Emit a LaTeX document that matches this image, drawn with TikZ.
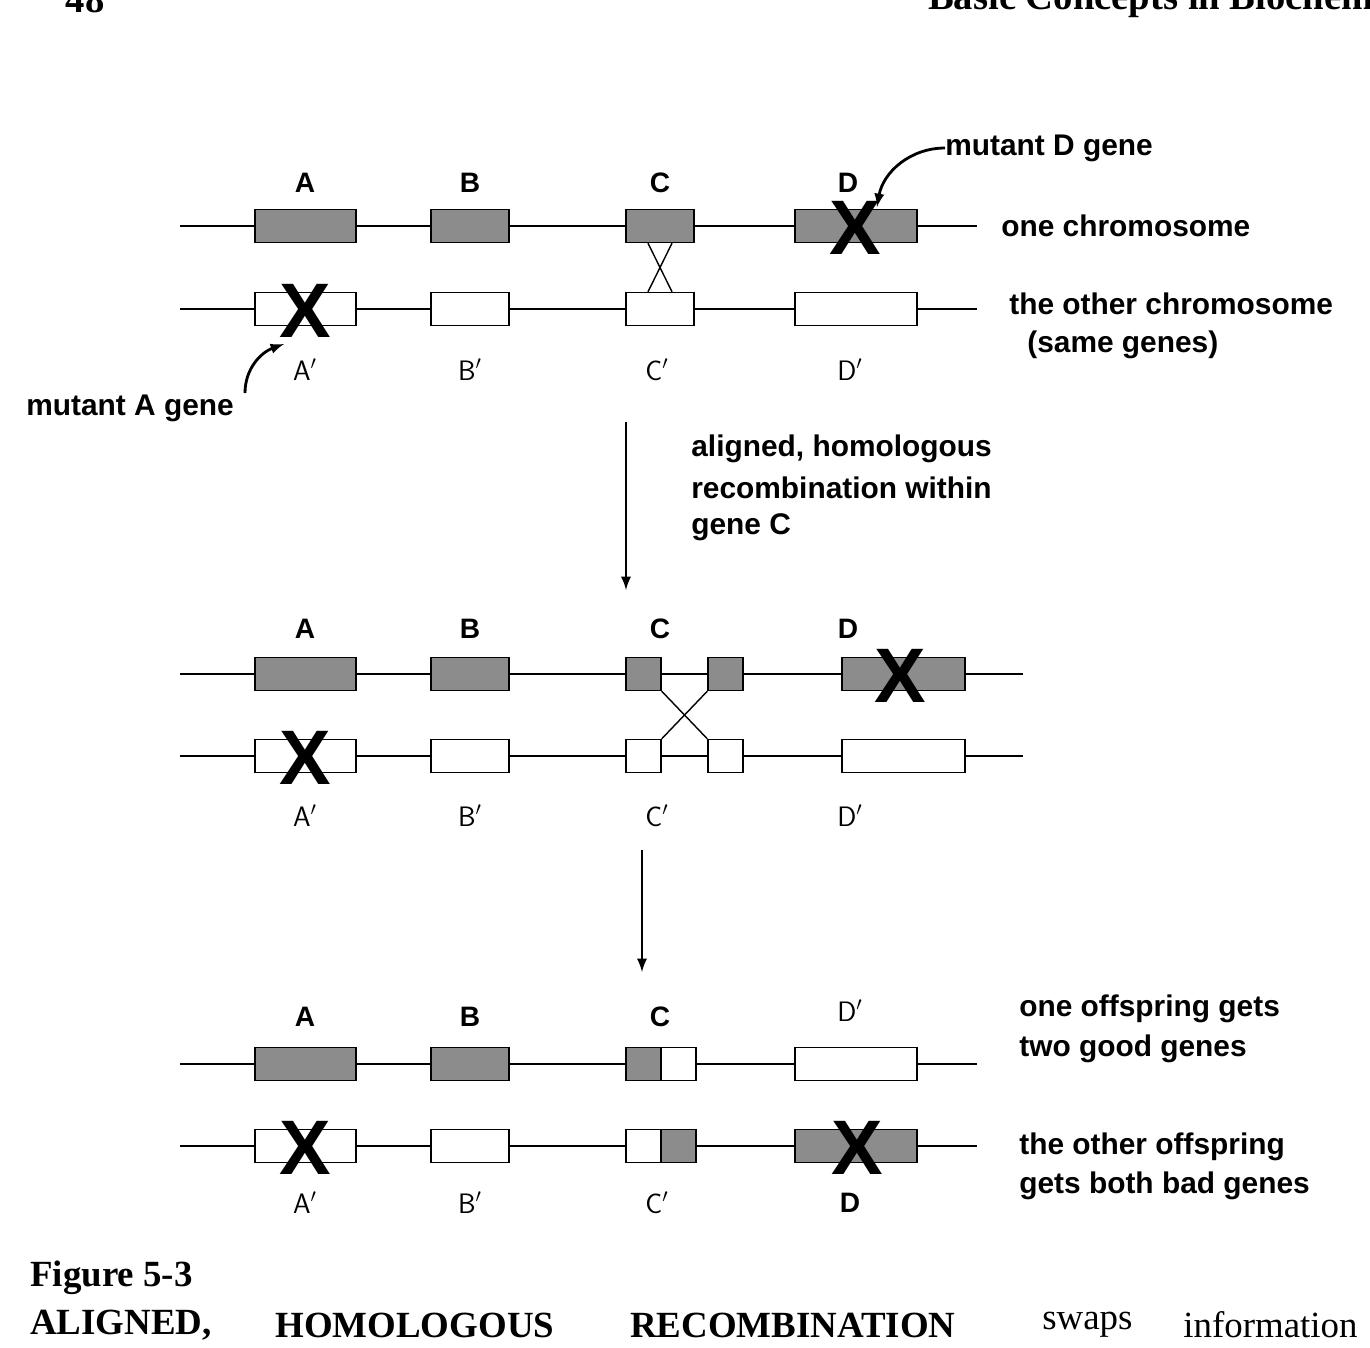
\documentclass[tikz,border=0pt]{standalone}
\usepackage{fontspec}
\setmainfont{Liberation Serif}
\newfontfamily\labelfont{Liberation Sans}
\usetikzlibrary{positioning,calc}
\definecolor{genegray}{HTML}{8C8C8C}
\tikzset{
  lbl/.style={font=\labelfont\bfseries\fontsize{16}{18}\selectfont},
  txt/.style={font=\labelfont\bfseries\fontsize{17}{20}\selectfont,anchor=west,inner sep=0},
  chrom/.style={line width=1.6pt},
  gene/.style={draw,line width=0.8pt,minimum height=0.66cm,inner sep=0,fill=white},
  good/.style={gene,fill=genegray},
  mut/.style={font=\labelfont\bfseries\fontsize{44}{44}\selectfont,inner sep=0},
  stagearrow/.style={-latex,line width=1.6pt},
}
\begin{document}
\begin{tikzpicture}[x=0.02cm,y=-0.02cm]
  \useasboundingbox (0,0) rectangle (1370,1347);

  % header of the page
  \node[font=\bfseries\fontsize{22}{24}\selectfont] (pg) at (85,0) {48};
  \node[font=\bfseries\fontsize{22}{24}\selectfont,anchor=west] (hd) at (922,0) {Basic Concepts in Biochemistry};

  % first pair
  \coordinate (l1a) at (180,226); \coordinate (l1b) at (977,226);
  \coordinate (l2a) at (180,309); \coordinate (l2b) at (977,309);
  \draw[chrom] (l1a) -- (l1b);
  \draw[chrom] (l2a) -- (l2b);
  \node[good,minimum width=2.02cm] (a1) at (305.5,226) {};
  \node[good,minimum width=1.56cm] (b1) at (470,226) {};
  \node[good,minimum width=1.36cm] (c1) at (660,226) {};
  \node[good,minimum width=2.44cm] (d1) at (856,226) {};
  \node[gene,minimum width=2.02cm] (a2) at (305.5,309) {};
  \node[gene,minimum width=1.56cm] (b2) at (470,309) {};
  \node[gene,minimum width=1.36cm] (c2) at (660,309) {};
  \node[gene,minimum width=2.44cm] (d2) at (856,309) {};
  \node[mut] (xd1) at (855,228) {X};
  \node[mut] (xa2) at (305,311) {X};
  \draw[line width=0.8pt] ($(c1.south)+(-12,0)$) -- ($(c2.north)+(12,0)$);
  \draw[line width=0.8pt] ($(c1.south)+(12,0)$) -- ($(c2.north)+(-12,0)$);
  \foreach \n/\x in {A/305,B/470,C/660,D/848} \node[lbl] at (\x,183) {\n};
  \foreach \n/\x in {A/305,B/470,C/657,D/850} \node[lbl] at (\x,370) {$\mathsf{\n'}$};
  \node[txt] (mD) at (945,148) {mutant D gene};
  \draw[-latex,line width=1.6pt] (mD.west) to[out=180,in=80] (877,207);
  \node[txt] (one) at (1001,226) {one chromosome};
  \node[txt] (oth) at (1009,304) {the other chromosome};
  \node[txt] (same) at (1027,345) {(same genes)};
  \node[txt] (mA) at (26,408) {mutant A gene};
  \draw[-latex,line width=1.6pt] (245,393) to[out=90,in=200] (284,344);

  \draw[stagearrow] (626,422) -- (626,590);
  \node[txt] (s1) at (691,449) {aligned, homologous};
  \node[txt] (s2) at (691,488) {recombination within};
  \node[txt] (s3) at (691,527) {gene C};

  % recombination
  \draw[chrom] (180,674) -- (1023,674);
  \draw[chrom] (180,756) -- (1023,756);
  \node[good,minimum width=2.02cm] (a3) at (305.5,674) {};
  \node[good,minimum width=1.56cm] (b3) at (470,674) {};
  \node[good,minimum width=0.7cm] (c3l) at (643.5,674) {};
  \node[good,minimum width=0.7cm] (c3r) at (725.5,674) {};
  \node[good,minimum width=2.46cm] (d3) at (903.5,674) {};
  \node[gene,minimum width=2.02cm] (a4) at (305.5,756) {};
  \node[gene,minimum width=1.56cm] (b4) at (470,756) {};
  \node[gene,minimum width=0.7cm] (c4l) at (643.5,756) {};
  \node[gene,minimum width=0.7cm] (c4r) at (725.5,756) {};
  \node[gene,minimum width=2.46cm] (d4) at (903.5,756) {};
  \node[mut] (xd3) at (900,676) {X};
  \node[mut] (xa4) at (305,758) {X};
  \draw[line width=0.8pt] (c3l.south east) -- (c4r.north west);
  \draw[line width=0.8pt] (c3r.south west) -- (c4l.north east);
  \foreach \n/\x in {A/305,B/470,C/660,D/848} \node[lbl] at (\x,629) {\n};
  \foreach \n/\x in {A/305,B/470,C/657,D/850} \node[lbl] at (\x,816) {$\mathsf{\n'}$};

  \draw[stagearrow] (642,850) -- (642,972);

  % offspring
  \draw[chrom] (180,1064) -- (977,1064);
  \draw[chrom] (180,1146) -- (977,1146);
  \node[good,minimum width=2.02cm] (a5) at (305.5,1064) {};
  \node[good,minimum width=1.56cm] (b5) at (470,1064) {};
  \node[good,minimum width=0.7cm] (c5l) at (643.5,1064) {};
  \node[gene,minimum width=0.7cm] (c5r) at (678.5,1064) {};
  \node[gene,minimum width=2.44cm] (d5) at (856,1064) {};
  \node[gene,minimum width=2.02cm] (a6) at (305.5,1146) {};
  \node[gene,minimum width=1.56cm] (b6) at (470,1146) {};
  \node[gene,minimum width=0.7cm] (c6l) at (643.5,1146) {};
  \node[good,minimum width=0.7cm] (c6r) at (678.5,1146) {};
  \node[good,minimum width=2.44cm] (d6) at (856,1146) {};
  \node[mut] (xa6) at (305,1148) {X};
  \node[mut] (xd6) at (857,1148) {X};
  \foreach \n/\x in {A/305,B/470,C/660} \node[lbl] at (\x,1017) {\n};
  \node[lbl] at (850,1011) {$\mathsf{D'}$};
  \foreach \n/\x in {A/305,B/470,C/657} \node[lbl] at (\x,1203) {$\mathsf{\n'}$};
  \node[lbl] at (850,1203) {D};
  \node[txt] (o1) at (1019,1009) {one offspring gets};
  \node[txt] (o2) at (1019,1049) {two good genes};
  \node[txt] (o3) at (1019,1147) {the other offspring};
  \node[txt] (o4) at (1019,1186) {gets both bad genes};

  % caption
  \node[anchor=west,inner sep=0,font=\bfseries\fontsize{21}{24}\selectfont] (fig) at (30,1278) {Figure 5-3};
  \node[anchor=west,inner sep=0,font=\bfseries\fontsize{21}{24}\selectfont] (w1) at (30,1325) {ALIGNED,};
  \node[anchor=west,inner sep=0,font=\bfseries\fontsize{21}{24}\selectfont] (w2) at (275,1325) {HOMOLOGOUS};
  \node[anchor=west,inner sep=0,font=\bfseries\fontsize{21}{24}\selectfont] (w3) at (630,1325) {RECOMBINATION};
  \node[anchor=west,inner sep=0,font=\fontsize{21}{24}\selectfont] (w4) at (1042,1325) {swaps};
  \node[anchor=west,inner sep=0,font=\fontsize{21}{24}\selectfont] (w5) at (1183,1325) {information};
\end{tikzpicture}
\end{document}
